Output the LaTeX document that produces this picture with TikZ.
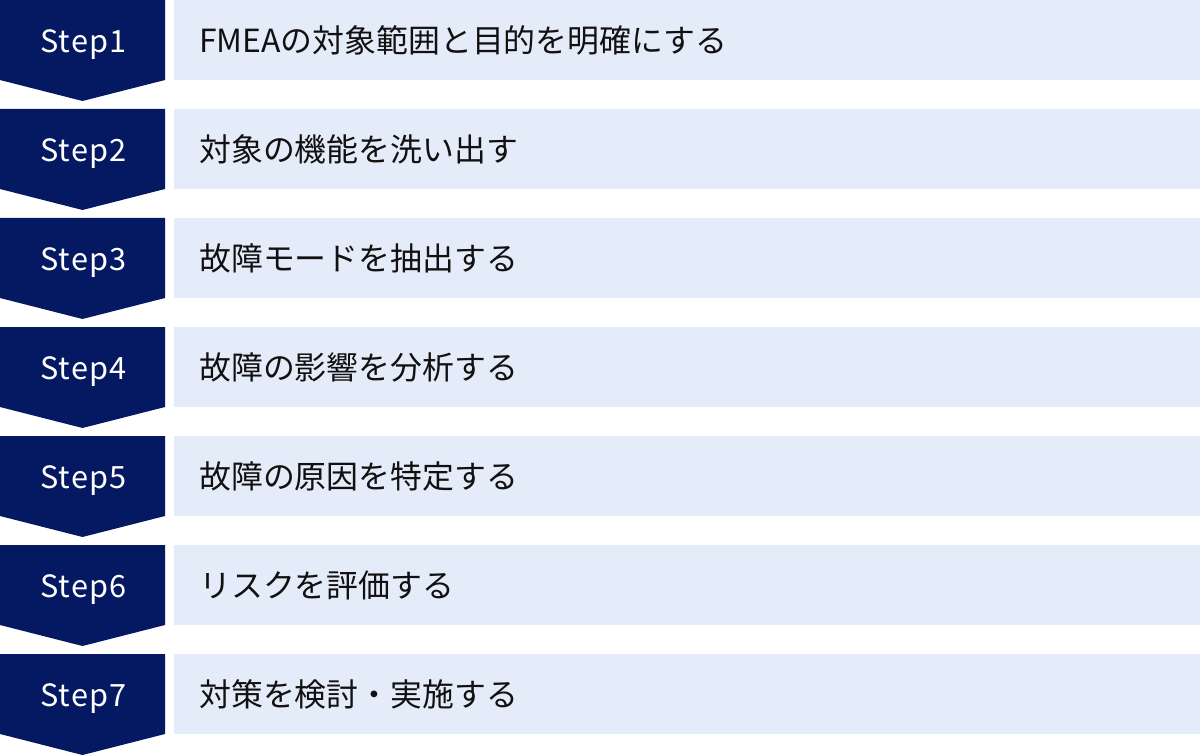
\documentclass[tikz,border=0pt]{standalone}
\usepackage{fontspec}
\setmainfont{Noto Sans}
\newfontfamily\jpfont{Noto Sans CJK JP}
\newfontfamily\stepfont[LetterSpace=4]{Noto Sans CJK JP}
\definecolor{navy}{RGB}{5,25,98}
\definecolor{lightbox}{RGB}{229,236,249}
\definecolor{txt}{RGB}{17,17,17}
\tikzset{
  stepshape/.style={fill=navy},
  boxshape/.style={fill=lightbox},
  steplabel/.style={text=white,inner sep=0pt,anchor=base,font=\stepfont\fontsize{23pt}{26pt}\selectfont},
  desc/.style={text=txt,inner sep=0pt,anchor=west,font=\jpfont\fontsize{23.9pt}{28pt}\selectfont}
}
\begin{document}
\begin{tikzpicture}[x=0.75pt,y=-0.75pt]
\useasboundingbox (0,0) rectangle (1200,756);
\foreach \i/\t in {1/{FMEAの対象範囲と目的を明確にする},2/{対象の機能を洗い出す},3/{故障モードを抽出する},4/{故障の影響を分析する},5/{故障の原因を特定する},6/{リスクを評価する},7/{対策を検討・実施する}}{
  \pgfmathsetmacro{\top}{109*(\i-1)}
  \fill[stepshape] (0,\top) -- (165,\top) -- (165,\top+80) -- (82.5,\top+101) -- (0,\top+80) -- cycle;
  \fill[boxshape] (174,\top) rectangle (1200,\top+80);
  \node[steplabel] (s\i) at (83.5,\top+52.5) {Step\i};
  \node[desc] (t\i) at (199,\top+40) {\t};
}
\end{tikzpicture}
\end{document}
